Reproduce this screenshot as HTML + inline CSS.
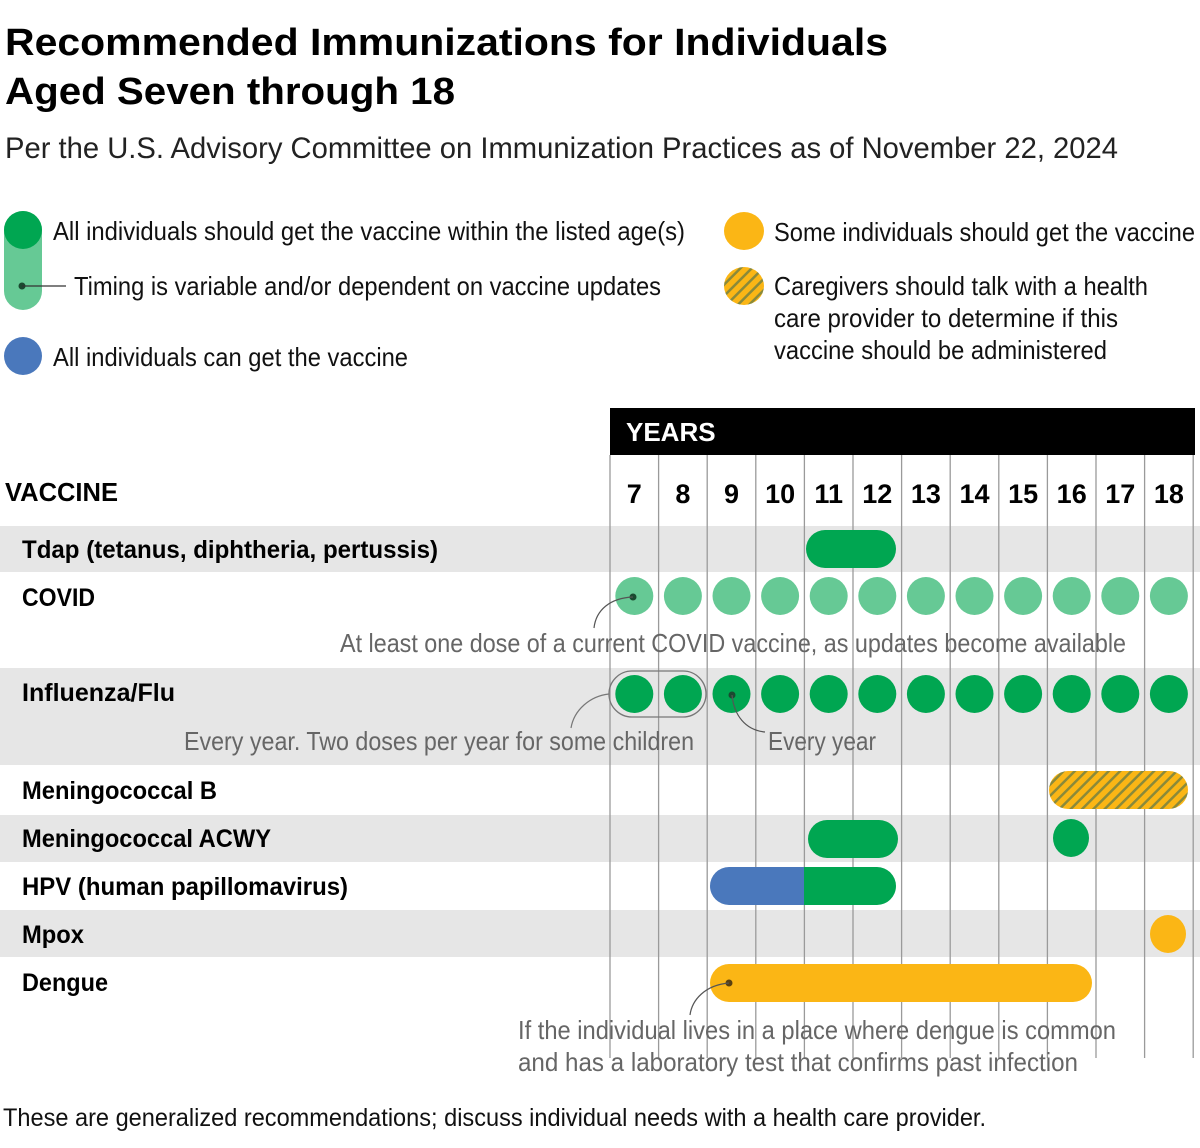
<!DOCTYPE html>
<html><head><meta charset="utf-8"><style>
html,body{margin:0;padding:0;background:#fff;}
svg{display:block;font-family:"Liberation Sans Narrow","Liberation Sans",sans-serif;}
</style></head><body>
<svg width="1200" height="1148" viewBox="0 0 1200 1148" xmlns="http://www.w3.org/2000/svg">
<defs>
<pattern id="hatch" width="8" height="8" patternUnits="userSpaceOnUse" patternTransform="rotate(45)">
<rect width="8" height="8" fill="#fbb615"/><rect width="2.5" height="8" fill="#8a8a3a"/>
</pattern>
</defs>
<g font-weight="bold" fill="#000">
<text x="5" y="55" font-size="38" textLength="883" lengthAdjust="spacingAndGlyphs">Recommended Immunizations for Individuals</text>
<text x="5" y="104" font-size="38" textLength="450" lengthAdjust="spacingAndGlyphs">Aged Seven through 18</text>
</g>
<text x="5" y="158" font-size="30" fill="#222" textLength="1113" lengthAdjust="spacingAndGlyphs">Per the U.S. Advisory Committee on Immunization Practices as of November 22, 2024</text>

<!-- legend -->
<rect x="4" y="211" width="38" height="99" rx="19" fill="#66c995"/>
<ellipse cx="23" cy="230" rx="19" ry="19" fill="#00a651"/>
<circle cx="22" cy="286" r="3.5" fill="#1a4a30"/>
<line x1="22" y1="286" x2="66" y2="286" stroke="#333" stroke-width="1.2"/>
<ellipse cx="23" cy="356" rx="19" ry="19" fill="#4a78bc"/>
<g font-size="26" fill="#111">
<text x="53" y="240" textLength="632" lengthAdjust="spacingAndGlyphs">All individuals should get the vaccine within the listed age(s)</text>
<text x="74" y="295" textLength="587" lengthAdjust="spacingAndGlyphs">Timing is variable and/or dependent on vaccine updates</text>
<text x="53" y="366" textLength="355" lengthAdjust="spacingAndGlyphs">All individuals can get the vaccine</text>
<text x="774" y="241" textLength="421" lengthAdjust="spacingAndGlyphs">Some individuals should get the vaccine</text>
<text x="774" y="295" textLength="374" lengthAdjust="spacingAndGlyphs">Caregivers should talk with a health</text>
<text x="774" y="327" textLength="344" lengthAdjust="spacingAndGlyphs">care provider to determine if this</text>
<text x="774" y="359" textLength="333" lengthAdjust="spacingAndGlyphs">vaccine should be administered</text>
</g>
<ellipse cx="744" cy="231" rx="20" ry="19" fill="#fbb615"/>
<ellipse cx="744" cy="286" rx="20" ry="19" fill="url(#hatch)"/>

<!-- row bands -->
<rect x="0" y="526" width="1200" height="46" fill="#e6e6e6"/>
<rect x="0" y="668" width="1200" height="97" fill="#e6e6e6"/>
<rect x="0" y="815" width="1200" height="47" fill="#e6e6e6"/>
<rect x="0" y="910" width="1200" height="47" fill="#e6e6e6"/>

<!-- header -->
<rect x="610" y="408" width="585" height="47" fill="#000"/>
<text x="626" y="441" font-size="26" font-weight="bold" fill="#fff">YEARS</text>
<g stroke="#9a9a9a" stroke-width="1.3">
<line x1="610" y1="455" x2="610" y2="1058"/><line x1="658.6" y1="455" x2="658.6" y2="1058"/>
<line x1="707.2" y1="455" x2="707.2" y2="1058"/><line x1="755.8" y1="455" x2="755.8" y2="1058"/>
<line x1="804.4" y1="455" x2="804.4" y2="1058"/><line x1="853" y1="455" x2="853" y2="1058"/>
<line x1="901.6" y1="455" x2="901.6" y2="1058"/><line x1="950.2" y1="455" x2="950.2" y2="1058"/>
<line x1="998.8" y1="455" x2="998.8" y2="1058"/><line x1="1047.4" y1="455" x2="1047.4" y2="1058"/>
<line x1="1096" y1="455" x2="1096" y2="1058"/><line x1="1144.6" y1="455" x2="1144.6" y2="1058"/>
<line x1="1193.2" y1="455" x2="1193.2" y2="1058"/>
</g>
<g font-size="27" font-weight="bold" text-anchor="middle" fill="#000">
<text x="634.3" y="503">7</text><text x="682.9" y="503">8</text><text x="731.5" y="503">9</text>
<text x="780.1" y="503">10</text><text x="828.7" y="503">11</text><text x="877.3" y="503">12</text>
<text x="925.9" y="503">13</text><text x="974.5" y="503">14</text><text x="1023.1" y="503">15</text>
<text x="1071.7" y="503">16</text><text x="1120.3" y="503">17</text><text x="1168.9" y="503">18</text>
</g>
<text x="5" y="501" font-size="26" font-weight="bold" textLength="113" lengthAdjust="spacingAndGlyphs">VACCINE</text>
<g font-size="25" font-weight="bold" fill="#000">
<text x="22" y="558" textLength="416" lengthAdjust="spacingAndGlyphs">Tdap (tetanus, diphtheria, pertussis)</text>
<text x="22" y="606" textLength="73" lengthAdjust="spacingAndGlyphs">COVID</text>
<text x="22" y="701" textLength="153" lengthAdjust="spacingAndGlyphs">Influenza/Flu</text>
<text x="22" y="799" textLength="195" lengthAdjust="spacingAndGlyphs">Meningococcal B</text>
<text x="22" y="847" textLength="249" lengthAdjust="spacingAndGlyphs">Meningococcal ACWY</text>
<text x="22" y="895" textLength="326" lengthAdjust="spacingAndGlyphs">HPV (human papillomavirus)</text>
<text x="22" y="943" textLength="62" lengthAdjust="spacingAndGlyphs">Mpox</text>
<text x="22" y="991" textLength="86" lengthAdjust="spacingAndGlyphs">Dengue</text>
</g>

<!-- Tdap -->
<rect x="806" y="530" width="90" height="38" rx="19" fill="#00a651"/>
<!-- COVID -->
<g fill="#66c995">
<ellipse cx="634.3" cy="596" rx="19" ry="19"/><ellipse cx="682.9" cy="596" rx="19" ry="19"/><ellipse cx="731.5" cy="596" rx="19" ry="19"/>
<ellipse cx="780.1" cy="596" rx="19" ry="19"/><ellipse cx="828.7" cy="596" rx="19" ry="19"/><ellipse cx="877.3" cy="596" rx="19" ry="19"/>
<ellipse cx="925.9" cy="596" rx="19" ry="19"/><ellipse cx="974.5" cy="596" rx="19" ry="19"/><ellipse cx="1023.1" cy="596" rx="19" ry="19"/>
<ellipse cx="1071.7" cy="596" rx="19" ry="19"/><ellipse cx="1120.3" cy="596" rx="19" ry="19"/><ellipse cx="1168.9" cy="596" rx="19" ry="19"/>
</g>
<circle cx="633" cy="597" r="3.5" fill="#1a4a30"/>
<path d="M633 597 C610 598 596 610 594 628" fill="none" stroke="#555" stroke-width="1.2"/>
<text x="340" y="652" font-size="26" fill="#666" textLength="786" lengthAdjust="spacingAndGlyphs">At least one dose of a current COVID vaccine, as updates become available</text>
<!-- Flu -->
<rect x="609" y="671" width="97" height="46" rx="23" fill="none" stroke="#777" stroke-width="1.3"/>
<g fill="#00a651">
<ellipse cx="634.3" cy="694" rx="19" ry="19"/><ellipse cx="682.9" cy="694" rx="19" ry="19"/><ellipse cx="731.5" cy="694" rx="19" ry="19"/>
<ellipse cx="780.1" cy="694" rx="19" ry="19"/><ellipse cx="828.7" cy="694" rx="19" ry="19"/><ellipse cx="877.3" cy="694" rx="19" ry="19"/>
<ellipse cx="925.9" cy="694" rx="19" ry="19"/><ellipse cx="974.5" cy="694" rx="19" ry="19"/><ellipse cx="1023.1" cy="694" rx="19" ry="19"/>
<ellipse cx="1071.7" cy="694" rx="19" ry="19"/><ellipse cx="1120.3" cy="694" rx="19" ry="19"/><ellipse cx="1168.9" cy="694" rx="19" ry="19"/>
</g>
<circle cx="732" cy="695" r="3.5" fill="#1a4a30"/>
<path d="M732 695 C734 715 745 730 765 732" fill="none" stroke="#555" stroke-width="1.2"/>
<path d="M609 694 C590 696 574 710 571 728" fill="none" stroke="#777" stroke-width="1.2"/>
<g font-size="26" fill="#666">
<text x="184" y="750" textLength="510" lengthAdjust="spacingAndGlyphs">Every year. Two doses per year for some children</text>
<text x="768" y="750" textLength="108" lengthAdjust="spacingAndGlyphs">Every year</text>
</g>
<!-- MenB -->
<rect x="1049" y="771" width="139" height="38" rx="19" fill="url(#hatch)"/>
<!-- ACWY -->
<rect x="808" y="820" width="90" height="38" rx="19" fill="#00a651"/>
<ellipse cx="1071" cy="838" rx="18" ry="19" fill="#00a651"/>
<!-- HPV -->
<path d="M729 867 H804 V905 H729 A19 19 0 0 1 729 867 Z" fill="#4a78bc"/>
<path d="M804 867 H877 A19 19 0 0 1 877 905 H804 Z" fill="#00a651"/>
<!-- Mpox -->
<ellipse cx="1168" cy="934" rx="18" ry="19" fill="#fbb615"/>
<!-- Dengue -->
<rect x="710" y="964" width="382" height="38" rx="19" fill="#fbb615"/>
<circle cx="729" cy="983" r="3.5" fill="#5a4010"/>
<path d="M729 983 C705 985 692 1000 690 1015" fill="none" stroke="#555" stroke-width="1.2"/>
<g font-size="26" fill="#666">
<text x="518" y="1039" textLength="598" lengthAdjust="spacingAndGlyphs">If the individual lives in a place where dengue is common</text>
<text x="518" y="1071" textLength="560" lengthAdjust="spacingAndGlyphs">and has a laboratory test that confirms past infection</text>
</g>
<text x="3" y="1126" font-size="25" fill="#111" textLength="983" lengthAdjust="spacingAndGlyphs">These are generalized recommendations; discuss individual needs with a health care provider.</text>
</svg>
</body></html>
